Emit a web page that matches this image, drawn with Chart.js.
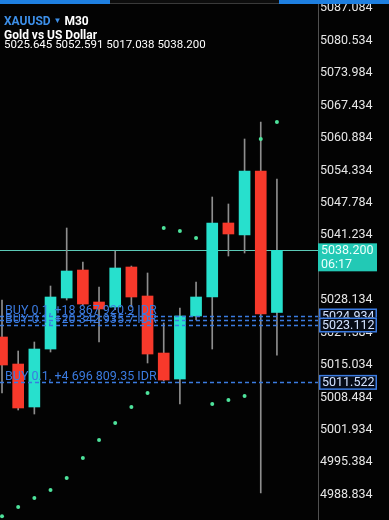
<!DOCTYPE html>
<html>
<head>
<meta charset="utf-8">
<title>XAUUSD M30</title>
<script src="https://cdn.jsdelivr.net/npm/chart.js@4.4.1/dist/chart.umd.min.js"></script>
<style>
    html, body { margin: 0; padding: 0; background: #000; }
    #wrap { position: relative; width: 389px; height: 520px; overflow: hidden; background: #030303; font-family: Roboto, 'Noto Sans', sans-serif; }
    #chart { position: absolute; left: 0; top: 0; }
    .strip { position: absolute; top: 0; height: 4px; }
    .txt { position: absolute; left: 4px; white-space: nowrap; color: #fff; }
</style>
</head>
<body>
<div id="wrap">
    <canvas id="chart" width="389" height="520"></canvas>
    <div class="strip" style="left:0;width:110px;background:#1e7fe0"></div>
    <div class="strip" style="left:110px;width:169px;height:3px;background:#0d0d0d;border-bottom:1px solid #3a3a3a"></div>
    <div class="strip" style="left:279px;width:110px;background:#1e7fe0"></div>
    <div class="txt" id="symLine" style="top:15px;font-size:12px;line-height:12px;font-weight:bold"></div>
    <div class="txt" id="nameLine" style="top:29px;font-size:12px;line-height:12px;font-weight:bold"></div>
    <div class="txt" id="ohlcLine" style="top:39px;font-size:11.5px;line-height:11.5px"></div>
</div>
<script>
// ============================================================
// DATA - XAUUSD M30 (valores lidos do print)
// ============================================================

const symbol = 'XAUUSD';
const timeframe = 'M30';
const symbolName = 'Gold vs US Dollar';

// numero da barra (ordem no tempo)
const barNo  = [1, 2, 3, 4, 5, 6, 7, 8, 9, 10, 11, 12, 13, 14, 15, 16, 17, 18];
const opens  = [5020.69, 5015.23, 5006.55, 5018.26, 5028.57, 5034.22, 5027.76, 5026.75, 5034.83, 5028.97, 5017.45, 5012.20, 5024.93, 5028.77, 5043.72, 5041.30, 5054.22, 5025.645];
const highs  = [5028.16, 5017.86, 5019.68, 5030.99, 5042.71, 5035.84, 5030.79, 5038.06, 5035.03, 5033.62, 5023.52, 5026.55, 5031.80, 5048.97, 5047.56, 5060.69, 5064.12, 5052.591];
const lows   = [5009.37, 5005.94, 5005.13, 5017.66, 5028.16, 5027.15, 5019.68, 5026.20, 5026.75, 5015.44, 5011.80, 5007.15, 5024.13, 5018.26, 5037.05, 5037.66, 4989.17, 5017.038];
const closes = [5015.03, 5006.35, 5018.26, 5028.77, 5034.02, 5027.35, 5026.35, 5034.63, 5028.77, 5017.25, 5012.00, 5024.93, 5028.77, 5043.72, 5041.50, 5054.22, 5025.33, 5038.200];

// Parabolic SAR
const sar = [4984.50, 4986.35, 4988.17, 4989.78, 4992.21, 4996.25, 4999.88, 5003.32, 5006.55, 5009.38, 5042.71, 5042.10, 5040.69, 5007.15, 5007.96, 5008.77, 5060.69, 5064.12];

// escala de preco
const tickValues = [4988.834, 4995.384, 5001.934, 5008.484, 5015.034, 5021.584, 5028.134, 5034.684,
                    5041.234, 5047.784, 5054.334, 5060.884, 5067.434, 5073.984, 5080.534, 5087.084];
const priceMin = 4983.72;
const priceMax = 5088.77;

// bid atual e posicoes abertas
const bidPrice = 5038.200;
const bidTimer = '06:17';
const tradePrices = [5024.934, 5024.124, 5023.112, 5011.522];
const tradeTexts  = ['BUY 0.1, +18 867 920.9 IDR', '', 'BUY 0.1, +20 342 935.7 IDR', 'BUY 0.1, +4 696 809.35 IDR'];
const tradeBoxes  = [true, false, true, true];

// ============================================================
// CORES
// ============================================================

const UP = '#27e0cd';
const DOWN = '#f7392b';
const WICK = '#8e8e8e';
const SAR_COLOR = '#4ee39c';
const BID_COLOR = '#5ccab7';
const TRADE_COLOR = '#3b7be0';

// ============================================================
// CABECALHO
// ============================================================

document.getElementById('symLine').innerHTML =
    `<span style="color:#3d8fe8">${symbol}</span> <span style="color:#3d8fe8;font-size:8px;vertical-align:2px">&#9660;</span> ${timeframe}`;
document.getElementById('nameLine').textContent = symbolName;
const last = barNo.length - 1;
document.getElementById('ohlcLine').textContent =
    [opens[last], highs[last], lows[last], closes[last]].map(v => v.toFixed(3)).join(' ');

// ============================================================
// PLUGIN - linhas de preco, posicoes e etiquetas do eixo
// ============================================================

function priceBox(ctx, x, yc, w, h, fill, stroke, lines, textColor) {
    ctx.fillStyle = fill;
    ctx.fillRect(x, yc - h / 2, w, h);
    if (stroke) {
        ctx.strokeStyle = stroke;
        ctx.lineWidth = 1.5;
        ctx.strokeRect(x + 0.75, yc - h / 2 + 0.75, w - 1.5, h - 1.5);
    }
    ctx.fillStyle = textColor;
    ctx.font = '12.5px Roboto';
    ctx.textAlign = 'left';
    ctx.textBaseline = 'middle';
    lines.forEach(l => ctx.fillText(l.text, x + 3, l.y));
}

const overlay = {
    id: 'overlay',
    beforeDatasetsDraw(chart) {
        const { ctx, chartArea: a, scales: { y } } = chart;
        const yb = Math.round(y.getPixelForValue(bidPrice)) + 0.5;
        ctx.save();
        ctx.strokeStyle = BID_COLOR;
        ctx.lineWidth = 1;
        ctx.beginPath();
        ctx.moveTo(a.left, yb);
        ctx.lineTo(a.right, yb);
        ctx.stroke();
        ctx.restore();
    },
    afterDatasetsDraw(chart) {
        const { ctx, chartArea: a, scales: { y } } = chart;
        ctx.save();
        tradePrices.forEach((p, i) => {
            const yp = Math.round(y.getPixelForValue(p)) + 0.5;
            ctx.strokeStyle = TRADE_COLOR;
            ctx.lineWidth = 1.3;
            ctx.setLineDash([4, 3]);
            ctx.beginPath();
            ctx.moveTo(a.left, yp);
            ctx.lineTo(a.right, yp);
            ctx.stroke();
            if (tradeTexts[i]) {
                ctx.setLineDash([]);
                ctx.fillStyle = TRADE_COLOR;
                ctx.font = '12.5px Roboto';
                ctx.textAlign = 'left';
                ctx.textBaseline = 'alphabetic';
                ctx.fillText(tradeTexts[i], a.left + 5, yp - 3);
            }
        });
        ctx.restore();
    },
    afterDraw(chart) {
        const { ctx, chartArea: a, scales: { y } } = chart;
        ctx.save();
        tradePrices.forEach((p, i) => {
            if (!tradeBoxes[i]) return;
            const yp = y.getPixelForValue(p);
            priceBox(ctx, a.right + 1, yp, 58, 15, '#060b16', TRADE_COLOR,
                [{ text: p.toFixed(3), y: yp + 0.5 }], '#d3e2ff');
        });
        const yb = y.getPixelForValue(bidPrice);
        ctx.fillStyle = '#22c9b5';
        ctx.fillRect(a.right, yb - 7, 59, 28);
        ctx.fillStyle = '#eafffb';
        ctx.font = '12.5px Roboto';
        ctx.textBaseline = 'middle';
        ctx.fillText(bidPrice.toFixed(3), a.right + 3, yb + 0.5);
        ctx.fillText(bidTimer, a.right + 3, yb + 14.5);
        ctx.restore();
    }
};

// ============================================================
// GRAFICO
// ============================================================

function init() {
    const wicks = barNo.map((b, i) => ({ x: b, y: [lows[i], highs[i]] }));
    const bodies = barNo.map((b, i) => ({ x: b, y: [opens[i], closes[i]] }));
    const bodyColors = barNo.map((b, i) => closes[i] >= opens[i] ? UP : DOWN);
    const sarPoints = barNo.map((b, i) => ({ x: b, y: sar[i] }));

    new Chart(document.getElementById('chart'), {
        type: 'bar',
        data: {
            datasets: [
                {
                    label: 'wick',
                    data: wicks,
                    backgroundColor: WICK,
                    barThickness: 1,
                    borderWidth: 0,
                    grouped: false,
                    order: 3
                },
                {
                    label: 'body',
                    data: bodies,
                    backgroundColor: bodyColors,
                    barThickness: 11,
                    borderWidth: 0,
                    grouped: false,
                    order: 2
                },
                {
                    type: 'line',
                    label: 'SAR',
                    data: sarPoints,
                    showLine: false,
                    pointRadius: 2,
                    pointBackgroundColor: SAR_COLOR,
                    pointBorderWidth: 0,
                    order: 1
                }
            ]
        },
        options: {
            responsive: false,
            animation: false,
            devicePixelRatio: 1,
            layout: { padding: 0, autoPadding: false },
            plugins: {
                legend: { display: false },
                tooltip: { enabled: false }
            },
            scales: {
                x: {
                    type: 'linear',
                    display: false,
                    offset: false,
                    min: 0.876,
                    max: 20.54
                },
                y: {
                    position: 'right',
                    min: priceMin,
                    max: priceMax,
                    grid: { display: false, drawTicks: false },
                    border: { display: true, color: '#505050' },
                    afterBuildTicks: s => { s.ticks = tickValues.map(v => ({ value: v })); },
                    afterFit: s => {
                        s.width = 71;
                        s.paddingTop = 0;
                        s.paddingBottom = 0;
                    },
                    ticks: {
                        color: '#e6e6e6',
                        font: { family: 'Roboto', size: 12.5 },
                        padding: 2,
                        autoSkip: false,
                        callback: v => v.toFixed(3)
                    }
                }
            }
        },
        plugins: [overlay]
    });
}

document.addEventListener('DOMContentLoaded', init);
</script>
</body>
</html>
